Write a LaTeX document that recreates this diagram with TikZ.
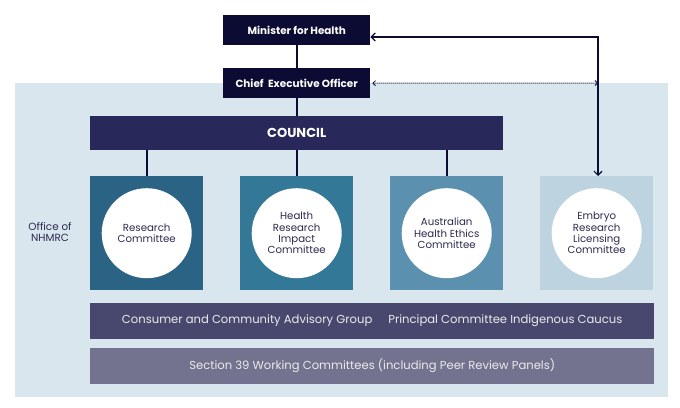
\documentclass[tikz,border=0pt]{standalone}
\usepackage{fontspec}
\setmainfont{Poppins}
\usetikzlibrary{arrows.meta}
\definecolor{bgblue}{HTML}{DAE6EE}
\definecolor{navy}{HTML}{0B0B33}
\definecolor{council}{HTML}{28285A}
\definecolor{cA}{HTML}{2A6384}
\definecolor{cB}{HTML}{337896}
\definecolor{cC}{HTML}{5B91AE}
\definecolor{cD}{HTML}{BED3E0}
\definecolor{barA}{HTML}{48476E}
\definecolor{barB}{HTML}{73728F}
\definecolor{txt}{HTML}{2B2B4F}
\begin{document}
\begin{tikzpicture}[x=1pt,y=-1pt,
  topbox/.style={fill=navy,text=white,font=\fontseries{sb}\selectfont\fontsize{10.4}{11}\selectfont,minimum width=147pt,minimum height=30pt,inner sep=0pt,anchor=north west},
  combox/.style={minimum width=113pt,minimum height=114pt,inner sep=0pt,anchor=north west},
  circ/.style={circle,fill=white,minimum size=90pt,inner sep=0pt,text=txt,align=center,font=\fontsize{10.2}{11.3}\selectfont},
  bar/.style={minimum width=564pt,minimum height=36pt,inner sep=0pt,anchor=north west,text=white!92!black,font=\fontsize{11.6}{12}\selectfont},
  link/.style={draw=navy,line width=1.6pt}
]
\useasboundingbox (0,0) rectangle (680,407);
\fill[bgblue] (15,83) rectangle (668,397);
\node[topbox] (min) at (223,15) {Minister for Health};
\node[topbox] (ceo) at (223,68) {Chief\ \ Executive Officer};
\node[anchor=north west,fill=council,text=white,font=\bfseries\fontsize{13}{14}\selectfont,minimum width=413pt,minimum height=34pt,inner sep=0pt] (council) at (90,116) {COUNCIL};
\node[combox,fill=cA] (b1) at (90,176) {};
\node[combox,fill=cB] (b2) at (240,176) {};
\node[combox,fill=cC] (b3) at (390,176) {};
\node[combox,fill=cD] (b4) at (540,176) {};
\node[circ] (c1) at (b1.center) {Research\\Committee};
\node[circ] (c2) at (b2.center) {Health\\Research\\Impact\\Committee};
\node[circ] (c3) at (b3.center) {Australian\\Health Ethics\\Committee};
\node[circ] (c4) at (b4.center) {Embryo\\Research\\Licensing\\Committee};
\node[text=txt,align=center,font=\fontsize{10.4}{11.3}\selectfont] (office) at (50,232) {Office of\\NHMRC};
\node[bar,fill=barA] (cons) at (90,302.5) {Consumer and Community Advisory Group\hspace{16pt}Principal Committee Indigenous Caucus};
\node[bar,fill=barB] (sec) at (90,347.5) {Section 39 Working Committees (including Peer Review Panels)};
\draw[link] (min) -- (ceo);
\draw[link] (ceo) -- (council);
\draw[link] (council.south -| b1.north) -- (b1.north);
\draw[link] (council.south -| b2.north) -- (b2.north);
\draw[link] (council.south -| b3.north) -- (b3.north);
\coordinate (corner) at (598,37);
\draw[link,line width=1.4pt,{Straight Barb[length=4pt,width=8pt,line width=1.2pt]}-{Straight Barb[length=4pt,width=8pt,line width=1.2pt]}] (min.east |- corner) -- (corner) -- (corner |- b4.north) ;
\coordinate (dotend) at (598,83);
\draw[navy,line width=1pt,densely dotted,{Straight Barb[length=2.5pt,width=5pt,line width=0.8pt]}-{Straight Barb[length=2.5pt,width=5pt,line width=0.8pt]}] ([xshift=2pt]ceo.east) -- (dotend);
\end{tikzpicture}
\end{document}
